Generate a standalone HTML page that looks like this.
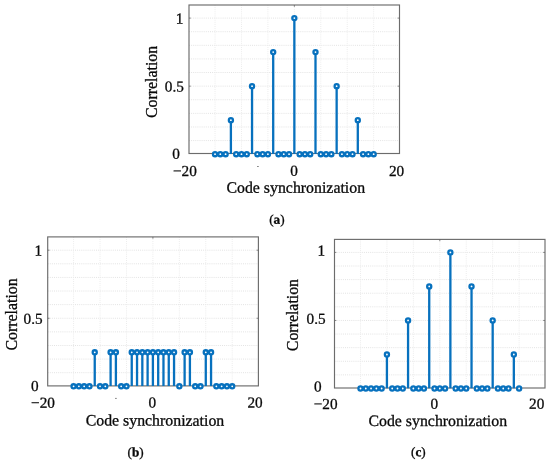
<!DOCTYPE html>
<html><head><meta charset="utf-8"><title>Figure</title>
<style>
html,body{margin:0;padding:0;background:#fff;}
body{width:550px;height:461px;overflow:hidden;}
svg{display:block;}
text{font-family:"Liberation Serif","DejaVu Serif",serif;fill:#0a0a0a;stroke:#0a0a0a;stroke-width:0.3px;}
.ty{font-size:15.25px;}
.tx{font-size:15.25px;}
.lb{font-size:15.85px;}
.cap{font-size:13.2px;}
.cap tspan{font-weight:bold;}
</style></head><body>
<svg width="550" height="461" viewBox="0 0 550 461">
<rect width="550" height="461" fill="#fff"/>

<g>
<path d="M189 140.59H399.5M189 126.98H399.5M189 113.37H399.5M189 99.76H399.5M189 86.15H399.5M189 72.54H399.5M189 58.93H399.5M189 45.32H399.5M189 31.71H399.5M189 18.10H399.5" stroke="#e3e3e3" stroke-width="1" stroke-dasharray="1 1.1" fill="none"/>
<path d="M215.04 5V153.5M241.48 5V153.5M267.91 5V153.5M294.35 5V153.5M320.79 5V153.5M347.23 5V153.5M373.66 5V153.5" stroke="#ececec" stroke-width="1" stroke-dasharray="1 1.1" fill="none"/>
<rect x="189" y="5" width="210.5" height="148.50" fill="none" stroke="#6c6c6c" stroke-width="1.15"/>
<path d="M189 86.15h1.8M399.5 86.15h-1.8M189 18.10h1.8M399.5 18.10h-1.8M294.35 153.5v-1.8M294.35 5v1.8" stroke="#666" stroke-width="0.8" fill="none"/>
<path d="M230.90 153.90V121.77M252.05 153.90V87.75M273.20 153.90V53.73M294.35 153.90V19.70M315.50 153.90V53.73M336.65 153.90V87.75M357.80 153.90V121.77" stroke="#0771be" stroke-width="2.3" fill="none"/>
<circle cx="215.04" cy="154.20" r="2.05" fill="#fff" stroke="#0771be" stroke-width="2.3"/>
<circle cx="220.33" cy="154.20" r="2.05" fill="#fff" stroke="#0771be" stroke-width="2.3"/>
<circle cx="225.61" cy="154.20" r="2.05" fill="#fff" stroke="#0771be" stroke-width="2.3"/>
<circle cx="230.90" cy="120.17" r="2.05" fill="#fff" stroke="#0771be" stroke-width="2.3"/>
<circle cx="236.19" cy="154.20" r="2.05" fill="#fff" stroke="#0771be" stroke-width="2.3"/>
<circle cx="241.48" cy="154.20" r="2.05" fill="#fff" stroke="#0771be" stroke-width="2.3"/>
<circle cx="246.76" cy="154.20" r="2.05" fill="#fff" stroke="#0771be" stroke-width="2.3"/>
<circle cx="252.05" cy="86.15" r="2.05" fill="#fff" stroke="#0771be" stroke-width="2.3"/>
<circle cx="257.34" cy="154.20" r="2.05" fill="#fff" stroke="#0771be" stroke-width="2.3"/>
<circle cx="262.62" cy="154.20" r="2.05" fill="#fff" stroke="#0771be" stroke-width="2.3"/>
<circle cx="267.91" cy="154.20" r="2.05" fill="#fff" stroke="#0771be" stroke-width="2.3"/>
<circle cx="273.20" cy="52.12" r="2.05" fill="#fff" stroke="#0771be" stroke-width="2.3"/>
<circle cx="278.49" cy="154.20" r="2.05" fill="#fff" stroke="#0771be" stroke-width="2.3"/>
<circle cx="283.78" cy="154.20" r="2.05" fill="#fff" stroke="#0771be" stroke-width="2.3"/>
<circle cx="289.06" cy="154.20" r="2.05" fill="#fff" stroke="#0771be" stroke-width="2.3"/>
<circle cx="294.35" cy="18.10" r="2.05" fill="#fff" stroke="#0771be" stroke-width="2.3"/>
<circle cx="299.64" cy="154.20" r="2.05" fill="#fff" stroke="#0771be" stroke-width="2.3"/>
<circle cx="304.93" cy="154.20" r="2.05" fill="#fff" stroke="#0771be" stroke-width="2.3"/>
<circle cx="310.21" cy="154.20" r="2.05" fill="#fff" stroke="#0771be" stroke-width="2.3"/>
<circle cx="315.50" cy="52.12" r="2.05" fill="#fff" stroke="#0771be" stroke-width="2.3"/>
<circle cx="320.79" cy="154.20" r="2.05" fill="#fff" stroke="#0771be" stroke-width="2.3"/>
<circle cx="326.08" cy="154.20" r="2.05" fill="#fff" stroke="#0771be" stroke-width="2.3"/>
<circle cx="331.36" cy="154.20" r="2.05" fill="#fff" stroke="#0771be" stroke-width="2.3"/>
<circle cx="336.65" cy="86.15" r="2.05" fill="#fff" stroke="#0771be" stroke-width="2.3"/>
<circle cx="341.94" cy="154.20" r="2.05" fill="#fff" stroke="#0771be" stroke-width="2.3"/>
<circle cx="347.23" cy="154.20" r="2.05" fill="#fff" stroke="#0771be" stroke-width="2.3"/>
<circle cx="352.51" cy="154.20" r="2.05" fill="#fff" stroke="#0771be" stroke-width="2.3"/>
<circle cx="357.80" cy="120.17" r="2.05" fill="#fff" stroke="#0771be" stroke-width="2.3"/>
<circle cx="363.09" cy="154.20" r="2.05" fill="#fff" stroke="#0771be" stroke-width="2.3"/>
<circle cx="368.38" cy="154.20" r="2.05" fill="#fff" stroke="#0771be" stroke-width="2.3"/>
<circle cx="373.66" cy="154.20" r="2.05" fill="#fff" stroke="#0771be" stroke-width="2.3"/>
<text class="ty" transform="translate(183.30,23.40) skewY(0.06)" text-anchor="end">1</text>
<text class="ty" transform="translate(183.90,91.60) skewY(0.06)" text-anchor="end">0.5</text>
<text class="ty" transform="translate(179.80,158.80) skewY(0.06)" text-anchor="end">0</text>
<text class="tx" transform="translate(184.90,176.00) skewY(0.06)" text-anchor="middle">−20</text>
<text class="tx" transform="translate(294.10,175.80) skewY(0.06)" text-anchor="middle">0</text>
<text class="tx" transform="translate(396.60,176.00) skewY(0.06)" text-anchor="middle">20</text>
<text class="lb" transform="translate(295.75,192.80) skewY(0.06)" text-anchor="middle">Code synchronization</text>
<text class="lb" transform="translate(156.70,81.95) rotate(-90)" text-anchor="middle">Correlation</text>
<text class="cap" transform="translate(276.90,223.70) skewY(0.06)" text-anchor="middle">(<tspan>a</tspan>)</text>
<rect x="257.0" y="166.0" width="1.8" height="1" fill="#8a8a8a"/>
</g>
<g>
<path d="M47.7 372.69H258.4M47.7 359.08H258.4M47.7 345.47H258.4M47.7 331.86H258.4M47.7 318.25H258.4M47.7 304.64H258.4M47.7 291.03H258.4M47.7 277.42H258.4M47.7 263.81H258.4M47.7 250.20H258.4" stroke="#e3e3e3" stroke-width="1" stroke-dasharray="1 1.1" fill="none"/>
<path d="M73.59 236.9V385.9M100.03 236.9V385.9M126.46 236.9V385.9M152.90 236.9V385.9M179.34 236.9V385.9M205.78 236.9V385.9M232.21 236.9V385.9" stroke="#ececec" stroke-width="1" stroke-dasharray="1 1.1" fill="none"/>
<rect x="47.7" y="236.9" width="210.7" height="149.00" fill="none" stroke="#6c6c6c" stroke-width="1.15"/>
<path d="M47.7 318.25h1.8M258.4 318.25h-1.8M47.7 250.20h1.8M258.4 250.20h-1.8M152.90 385.9v-1.8M152.90 236.9v1.8" stroke="#666" stroke-width="0.8" fill="none"/>
<path d="M94.74 386.00V353.88M110.60 386.00V353.88M115.89 386.00V353.88M131.75 386.00V353.88M137.04 386.00V353.88M142.33 386.00V353.88M147.61 386.00V353.88M152.90 386.00V353.88M158.19 386.00V353.88M163.47 386.00V353.88M168.76 386.00V353.88M174.05 386.00V353.88M184.62 386.00V353.88M189.91 386.00V353.88M205.78 386.00V353.88M211.06 386.00V353.88" stroke="#0771be" stroke-width="2.3" fill="none"/>
<circle cx="73.59" cy="386.30" r="2.05" fill="#fff" stroke="#0771be" stroke-width="2.3"/>
<circle cx="78.88" cy="386.30" r="2.05" fill="#fff" stroke="#0771be" stroke-width="2.3"/>
<circle cx="84.16" cy="386.30" r="2.05" fill="#fff" stroke="#0771be" stroke-width="2.3"/>
<circle cx="89.45" cy="386.30" r="2.05" fill="#fff" stroke="#0771be" stroke-width="2.3"/>
<circle cx="94.74" cy="352.28" r="2.05" fill="#fff" stroke="#0771be" stroke-width="2.3"/>
<circle cx="100.03" cy="386.30" r="2.05" fill="#fff" stroke="#0771be" stroke-width="2.3"/>
<circle cx="105.31" cy="386.30" r="2.05" fill="#fff" stroke="#0771be" stroke-width="2.3"/>
<circle cx="110.60" cy="352.28" r="2.05" fill="#fff" stroke="#0771be" stroke-width="2.3"/>
<circle cx="115.89" cy="352.28" r="2.05" fill="#fff" stroke="#0771be" stroke-width="2.3"/>
<circle cx="121.18" cy="386.30" r="2.05" fill="#fff" stroke="#0771be" stroke-width="2.3"/>
<circle cx="126.46" cy="386.30" r="2.05" fill="#fff" stroke="#0771be" stroke-width="2.3"/>
<circle cx="131.75" cy="352.28" r="2.05" fill="#fff" stroke="#0771be" stroke-width="2.3"/>
<circle cx="137.04" cy="352.28" r="2.05" fill="#fff" stroke="#0771be" stroke-width="2.3"/>
<circle cx="142.33" cy="352.28" r="2.05" fill="#fff" stroke="#0771be" stroke-width="2.3"/>
<circle cx="147.61" cy="352.28" r="2.05" fill="#fff" stroke="#0771be" stroke-width="2.3"/>
<circle cx="152.90" cy="352.28" r="2.05" fill="#fff" stroke="#0771be" stroke-width="2.3"/>
<circle cx="158.19" cy="352.28" r="2.05" fill="#fff" stroke="#0771be" stroke-width="2.3"/>
<circle cx="163.47" cy="352.28" r="2.05" fill="#fff" stroke="#0771be" stroke-width="2.3"/>
<circle cx="168.76" cy="352.28" r="2.05" fill="#fff" stroke="#0771be" stroke-width="2.3"/>
<circle cx="174.05" cy="352.28" r="2.05" fill="#fff" stroke="#0771be" stroke-width="2.3"/>
<circle cx="179.34" cy="386.30" r="2.05" fill="#fff" stroke="#0771be" stroke-width="2.3"/>
<circle cx="184.62" cy="352.28" r="2.05" fill="#fff" stroke="#0771be" stroke-width="2.3"/>
<circle cx="189.91" cy="352.28" r="2.05" fill="#fff" stroke="#0771be" stroke-width="2.3"/>
<circle cx="195.20" cy="386.30" r="2.05" fill="#fff" stroke="#0771be" stroke-width="2.3"/>
<circle cx="200.49" cy="386.30" r="2.05" fill="#fff" stroke="#0771be" stroke-width="2.3"/>
<circle cx="205.78" cy="352.28" r="2.05" fill="#fff" stroke="#0771be" stroke-width="2.3"/>
<circle cx="211.06" cy="352.28" r="2.05" fill="#fff" stroke="#0771be" stroke-width="2.3"/>
<circle cx="216.35" cy="386.30" r="2.05" fill="#fff" stroke="#0771be" stroke-width="2.3"/>
<circle cx="221.64" cy="386.30" r="2.05" fill="#fff" stroke="#0771be" stroke-width="2.3"/>
<circle cx="226.93" cy="386.30" r="2.05" fill="#fff" stroke="#0771be" stroke-width="2.3"/>
<circle cx="232.21" cy="386.30" r="2.05" fill="#fff" stroke="#0771be" stroke-width="2.3"/>
<text class="ty" transform="translate(42.00,255.50) skewY(0.06)" text-anchor="end">1</text>
<text class="ty" transform="translate(42.60,323.70) skewY(0.06)" text-anchor="end">0.5</text>
<text class="ty" transform="translate(38.50,390.90) skewY(0.06)" text-anchor="end">0</text>
<text class="tx" transform="translate(43.00,407.80) skewY(0.06)" text-anchor="middle">−20</text>
<text class="tx" transform="translate(152.20,407.40) skewY(0.06)" text-anchor="middle">0</text>
<text class="tx" transform="translate(255.00,407.60) skewY(0.06)" text-anchor="middle">20</text>
<text class="lb" transform="translate(154.95,425.60) skewY(0.06)" text-anchor="middle">Code synchronization</text>
<text class="lb" transform="translate(16.60,314.45) rotate(-90)" text-anchor="middle">Correlation</text>
<text class="cap" transform="translate(135.60,456.40) skewY(0.06)" text-anchor="middle">(<tspan>b</tspan>)</text>
<rect x="115.0" y="397.9" width="1.8" height="1" fill="#8a8a8a"/>
</g>
<g>
<path d="M334.5 374.89H545M334.5 361.28H545M334.5 347.67H545M334.5 334.06H545M334.5 320.45H545M334.5 306.84H545M334.5 293.23H545M334.5 279.62H545M334.5 266.01H545M334.5 252.40H545" stroke="#e3e3e3" stroke-width="1" stroke-dasharray="1 1.1" fill="none"/>
<path d="M360.49 239.4V388.0M386.93 239.4V388.0M413.36 239.4V388.0M439.80 239.4V388.0M466.24 239.4V388.0M492.68 239.4V388.0M519.11 239.4V388.0" stroke="#ececec" stroke-width="1" stroke-dasharray="1 1.1" fill="none"/>
<rect x="334.5" y="239.4" width="210.5" height="148.60" fill="none" stroke="#6c6c6c" stroke-width="1.15"/>
<path d="M334.5 320.45h1.8M545 320.45h-1.8M334.5 252.40h1.8M545 252.40h-1.8M439.80 388.0v-1.8M439.80 239.4v1.8" stroke="#666" stroke-width="0.8" fill="none"/>
<path d="M386.93 388.20V356.08M408.07 388.20V322.05M429.23 388.20V288.03M450.38 388.20V254.00M471.53 388.20V288.03M492.68 388.20V322.05M513.83 388.20V356.08" stroke="#0771be" stroke-width="2.3" fill="none"/>
<circle cx="360.49" cy="388.50" r="2.05" fill="#fff" stroke="#0771be" stroke-width="2.3"/>
<circle cx="365.78" cy="388.50" r="2.05" fill="#fff" stroke="#0771be" stroke-width="2.3"/>
<circle cx="371.06" cy="388.50" r="2.05" fill="#fff" stroke="#0771be" stroke-width="2.3"/>
<circle cx="376.35" cy="388.50" r="2.05" fill="#fff" stroke="#0771be" stroke-width="2.3"/>
<circle cx="381.64" cy="388.50" r="2.05" fill="#fff" stroke="#0771be" stroke-width="2.3"/>
<circle cx="386.93" cy="354.48" r="2.05" fill="#fff" stroke="#0771be" stroke-width="2.3"/>
<circle cx="392.21" cy="388.50" r="2.05" fill="#fff" stroke="#0771be" stroke-width="2.3"/>
<circle cx="397.50" cy="388.50" r="2.05" fill="#fff" stroke="#0771be" stroke-width="2.3"/>
<circle cx="402.79" cy="388.50" r="2.05" fill="#fff" stroke="#0771be" stroke-width="2.3"/>
<circle cx="408.07" cy="320.45" r="2.05" fill="#fff" stroke="#0771be" stroke-width="2.3"/>
<circle cx="413.36" cy="388.50" r="2.05" fill="#fff" stroke="#0771be" stroke-width="2.3"/>
<circle cx="418.65" cy="388.50" r="2.05" fill="#fff" stroke="#0771be" stroke-width="2.3"/>
<circle cx="423.94" cy="388.50" r="2.05" fill="#fff" stroke="#0771be" stroke-width="2.3"/>
<circle cx="429.23" cy="286.43" r="2.05" fill="#fff" stroke="#0771be" stroke-width="2.3"/>
<circle cx="434.51" cy="388.50" r="2.05" fill="#fff" stroke="#0771be" stroke-width="2.3"/>
<circle cx="439.80" cy="388.50" r="2.05" fill="#fff" stroke="#0771be" stroke-width="2.3"/>
<circle cx="445.09" cy="388.50" r="2.05" fill="#fff" stroke="#0771be" stroke-width="2.3"/>
<circle cx="450.38" cy="252.40" r="2.05" fill="#fff" stroke="#0771be" stroke-width="2.3"/>
<circle cx="455.66" cy="388.50" r="2.05" fill="#fff" stroke="#0771be" stroke-width="2.3"/>
<circle cx="460.95" cy="388.50" r="2.05" fill="#fff" stroke="#0771be" stroke-width="2.3"/>
<circle cx="466.24" cy="388.50" r="2.05" fill="#fff" stroke="#0771be" stroke-width="2.3"/>
<circle cx="471.53" cy="286.43" r="2.05" fill="#fff" stroke="#0771be" stroke-width="2.3"/>
<circle cx="476.81" cy="388.50" r="2.05" fill="#fff" stroke="#0771be" stroke-width="2.3"/>
<circle cx="482.10" cy="388.50" r="2.05" fill="#fff" stroke="#0771be" stroke-width="2.3"/>
<circle cx="487.39" cy="388.50" r="2.05" fill="#fff" stroke="#0771be" stroke-width="2.3"/>
<circle cx="492.68" cy="320.45" r="2.05" fill="#fff" stroke="#0771be" stroke-width="2.3"/>
<circle cx="497.96" cy="388.50" r="2.05" fill="#fff" stroke="#0771be" stroke-width="2.3"/>
<circle cx="503.25" cy="388.50" r="2.05" fill="#fff" stroke="#0771be" stroke-width="2.3"/>
<circle cx="508.54" cy="388.50" r="2.05" fill="#fff" stroke="#0771be" stroke-width="2.3"/>
<circle cx="513.83" cy="354.48" r="2.05" fill="#fff" stroke="#0771be" stroke-width="2.3"/>
<circle cx="519.11" cy="388.50" r="2.05" fill="#fff" stroke="#0771be" stroke-width="2.3"/>
<text class="ty" transform="translate(325.00,255.50) skewY(0.06)" text-anchor="end">1</text>
<text class="ty" transform="translate(325.60,323.70) skewY(0.06)" text-anchor="end">0.5</text>
<text class="ty" transform="translate(321.50,391.40) skewY(0.06)" text-anchor="end">0</text>
<text class="tx" transform="translate(325.60,409.10) skewY(0.06)" text-anchor="middle">−20</text>
<text class="tx" transform="translate(434.30,408.70) skewY(0.06)" text-anchor="middle">0</text>
<text class="tx" transform="translate(536.70,408.80) skewY(0.06)" text-anchor="middle">20</text>
<text class="lb" transform="translate(437.75,426.00) skewY(0.06)" text-anchor="middle">Code synchronization</text>
<text class="lb" transform="translate(298.30,315.05) rotate(-90)" text-anchor="middle">Correlation</text>
<text class="cap" transform="translate(418.40,456.30) skewY(0.06)" text-anchor="middle">(<tspan>c</tspan>)</text>
</g>
</svg></body></html>
